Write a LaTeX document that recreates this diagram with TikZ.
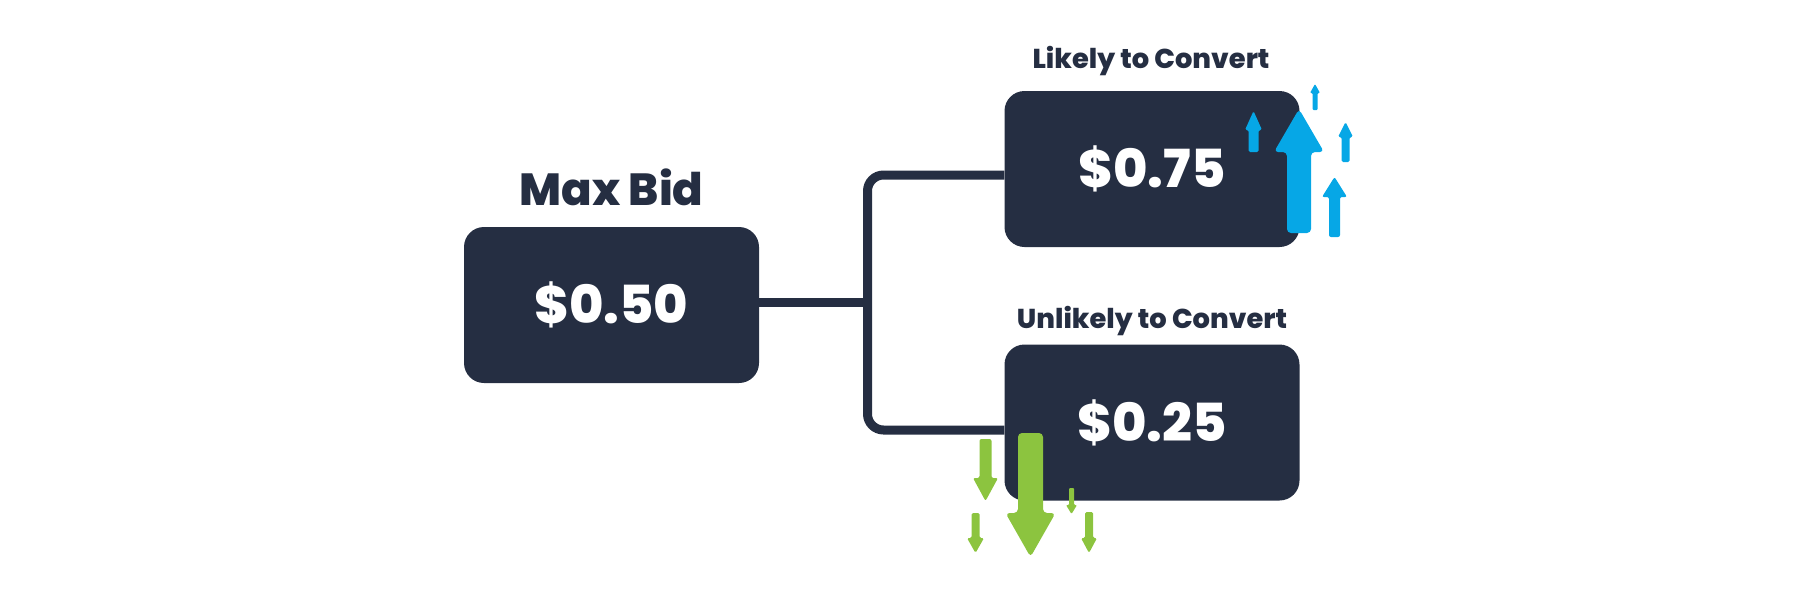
\documentclass[tikz,border=0pt]{standalone}
\usepackage{fontspec}
\usetikzlibrary{backgrounds}
\setmainfont{Poppins}[BoldFont={Poppins ExtraBold}]
\definecolor{navy}{HTML}{252E42}
\definecolor{skyb}{HTML}{06A7E6}
\definecolor{leaf}{HTML}{8CC43F}
\newcommand\myarrow[8]{% color, rc, cx, end, shaftw, base, headw, tip
  \fill[#1,rounded corners=#2] ({#3-#5/2},#4) -- ({#3-#5/2},#6) -- ({#3-#7/2},#6) -- (#3,#8) -- ({#3+#7/2},#6) -- ({#3+#5/2},#6) -- ({#3+#5/2},#4) -- cycle;}
\begin{document}
\begin{tikzpicture}[x=1pt,y=-1pt,
  pricebox/.style={fill=navy,rounded corners=20pt,minimum width=295pt,minimum height=156pt,text=white,font=\fontsize{52.5}{52.5}\selectfont\bfseries,inner sep=0pt},
  titlelbl/.style={text=navy,font=\fontsize{27.3}{27.3}\selectfont\bfseries,anchor=base,inner sep=0pt},
  conn/.style={draw=navy,line width=9pt,rounded corners=16pt}]
\useasboundingbox (0,0) rectangle (1818,606);
\coordinate (jn) at (867.5,302.5);
\node[pricebox] (max) at (611.5,305) {\$0.50};
\node[pricebox] (hi) at (1152,169) {\$0.75};
\node[pricebox] (lo) at (1152,422.5) {\$0.25};
\begin{scope}[on background layer]
\draw[conn] ([yshift=-6pt]hi.west) -| (jn) |- ([yshift=-7.5pt]lo.west);
\draw[conn] ([yshift=2.5pt]max.east) -- (jn);
\end{scope}
% titles
\node[titlelbl,font=\fontsize{45}{45}\selectfont\bfseries] (tmax) at (611.5,205) {Max Bid};
\node[titlelbl] (thi) at (1151,68) {Likely to Convert};
\node[titlelbl] (tlo) at (1152,328) {Unlikely to Convert};
% blue arrows
\myarrow{skyb}{4pt}{1299}{233}{24}{152}{50}{109}
\myarrow{skyb}{1.5pt}{1253.5}{152}{10}{130}{17}{111}
\myarrow{skyb}{1pt}{1315}{110}{5}{93}{10}{84}
\myarrow{skyb}{1.5pt}{1345.5}{162}{8}{137}{15}{122}
\myarrow{skyb}{2pt}{1334.5}{237}{11}{197}{25}{177}
% green arrows
\myarrow{leaf}{4pt}{1030.5}{433}{25}{513}{50}{557}
\myarrow{leaf}{2pt}{985.5}{439}{12}{478}{25}{501}
\myarrow{leaf}{1.5pt}{975.5}{513}{8}{538}{17}{553}
\myarrow{leaf}{1pt}{1071.5}{488}{5}{505}{11}{514}
\myarrow{leaf}{1.5pt}{1089}{512}{8}{538}{16}{553}
\end{tikzpicture}
\end{document}
